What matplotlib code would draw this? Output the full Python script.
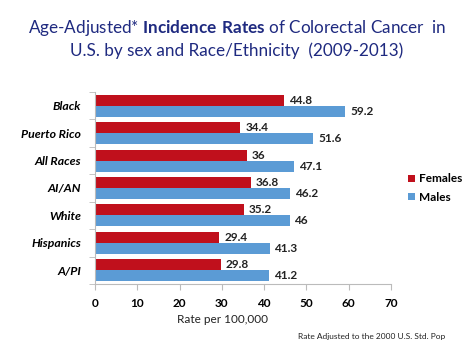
import numpy as np
import matplotlib.pyplot as plt

plt.rcParams['font.family'] = ['Lato', 'DejaVu Sans']
plt.rcParams['mathtext.fontset'] = 'custom'
plt.rcParams['mathtext.rm'] = 'Lato'
plt.rcParams['mathtext.bf'] = 'Lato:bold'

groups = ['Black', 'Puerto Rico', 'All Races', 'AI/AN', 'White', 'Hispanics', 'A/PI']
females = [44.8, 34.4, 36, 36.8, 35.2, 29.4, 29.8]
males = [59.2, 51.6, 47.1, 46.2, 46, 41.3, 41.2]
xticks = [0, 10, 20, 30, 40, 50, 60, 70]

red = '#C0101C'
blue = '#5B9BD5'
navy = '#1F2A80'

fig = plt.figure(figsize=(4.74, 3.55), dpi=100)
ax = fig.add_axes([0.2004, 0.2, 0.6245, 0.541])

y = np.arange(len(groups))
h = 0.4
ax.barh(y - h / 2, females, height=h, color=red, label='Females')
ax.barh(y + h / 2, males, height=h, color=blue, label='Males')

# value labels just past the bar ends
for yi, v in zip(y, females):
    ax.annotate(f'{v:g}', (v, yi - h / 2), xytext=(3.5, 0), textcoords='offset points',
                va='center', ha='left', fontsize=8.5, fontweight='bold', color='#222222')
for yi, v in zip(y, males):
    ax.annotate(f'{v:g}', (v, yi + h / 2), xytext=(3.5, 0), textcoords='offset points',
                va='center', ha='left', fontsize=8.5, fontweight='bold', color='#222222')

ax.set_xlim(0, 70)
ax.set_ylim(len(groups) - 0.5, -0.5)
ax.set_xticks(xticks)
ax.set_xticklabels([str(t) for t in xticks], fontsize=8.5, fontweight='bold')
ax.set_yticks(y)
ax.set_yticklabels(groups, fontsize=8.8, fontweight='bold', style='italic')
ax.set_yticks(np.arange(len(groups) + 1) - 0.5, minor=True)  # ticks between groups
ax.tick_params(axis='y', which='major', length=0, pad=10)
ax.tick_params(axis='y', which='minor', length=4, color='#BBBBBB')
ax.tick_params(axis='x', length=4, color='#BBBBBB', pad=6)
for s in ['top', 'right']:
    ax.spines[s].set_visible(False)
for s in ['left', 'bottom']:
    ax.spines[s].set_color('#BBBBBB')
ax.set_xlabel('Rate per 100,000', fontsize=8.5, labelpad=5, color='#222222')
ax.xaxis.set_label_coords(0.432, -0.155)

ax.legend(loc='center left', bbox_to_anchor=(1.02, 0.5), frameon=False,
          handlelength=0.6, handleheight=0.6, handletextpad=0.4, labelspacing=0.6,
          prop={'weight': 'bold', 'size': 8.5})

fig.text(0.5, 0.922, 'Age-Adjusted* $\\mathbf{Incidence\\ Rates}$ of Colorectal Cancer  in',
         ha='center', va='center', fontsize=12.3, color=navy)
fig.text(0.5, 0.858, 'U.S. by sex and Race/Ethnicity  (2009-2013)',
         ha='center', va='center', fontsize=12.3, color=navy)
fig.text(0.94, 0.052, 'Rate Adjusted to the 2000 U.S. Std. Pop', ha='right', va='center',
         fontsize=6, color='#222222')

fig.savefig('out.png', dpi=100)
